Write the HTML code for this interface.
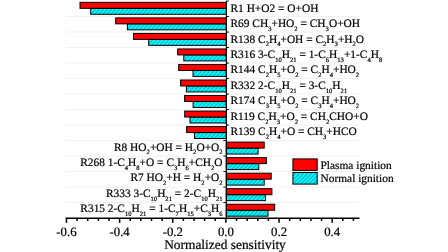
<!DOCTYPE html>
<html><head><meta charset="utf-8"><style>
html,body{margin:0;padding:0;background:#fff;}
body{width:448px;height:252px;overflow:hidden;}
svg{display:block;filter:none;font-family:"Liberation Serif","Times New Roman",serif;}
text{text-rendering:geometricPrecision;fill:#000;stroke:#000;stroke-width:0.2px;}
</style></head><body>
<svg width="448" height="252" viewBox="0 0 448 252">
<defs><pattern id="hatch" patternUnits="userSpaceOnUse" width="2.83" height="2.83" patternTransform="rotate(45)">
<rect width="2.83" height="2.83" fill="#00ffff"/><line x1="0" y1="0" x2="0" y2="2.83" stroke="#1b4f7a" stroke-width="1.0"/></pattern></defs>
<line x1="66.48" x2="358.75" y1="16.55" y2="16.55" stroke="#e2e2e2" stroke-width="1.0" stroke-dasharray="1 1"/>
<line x1="66.48" x2="358.75" y1="32.05" y2="32.05" stroke="#e2e2e2" stroke-width="1.0" stroke-dasharray="1 1"/>
<line x1="66.48" x2="358.75" y1="47.55" y2="47.55" stroke="#e2e2e2" stroke-width="1.0" stroke-dasharray="1 1"/>
<line x1="66.48" x2="358.75" y1="63.05" y2="63.05" stroke="#e2e2e2" stroke-width="1.0" stroke-dasharray="1 1"/>
<line x1="66.48" x2="358.75" y1="78.55" y2="78.55" stroke="#e2e2e2" stroke-width="1.0" stroke-dasharray="1 1"/>
<line x1="66.48" x2="358.75" y1="94.05" y2="94.05" stroke="#e2e2e2" stroke-width="1.0" stroke-dasharray="1 1"/>
<line x1="66.48" x2="358.75" y1="109.55" y2="109.55" stroke="#e2e2e2" stroke-width="1.0" stroke-dasharray="1 1"/>
<line x1="66.48" x2="358.75" y1="125.05" y2="125.05" stroke="#e2e2e2" stroke-width="1.0" stroke-dasharray="1 1"/>
<line x1="66.48" x2="358.75" y1="140.55" y2="140.55" stroke="#e2e2e2" stroke-width="1.0" stroke-dasharray="1 1"/>
<line x1="66.48" x2="358.75" y1="156.05" y2="156.05" stroke="#e2e2e2" stroke-width="1.0" stroke-dasharray="1 1"/>
<line x1="66.48" x2="358.75" y1="171.55" y2="171.55" stroke="#e2e2e2" stroke-width="1.0" stroke-dasharray="1 1"/>
<line x1="66.48" x2="358.75" y1="187.05" y2="187.05" stroke="#e2e2e2" stroke-width="1.0" stroke-dasharray="1 1"/>
<line x1="66.48" x2="358.75" y1="202.55" y2="202.55" stroke="#e2e2e2" stroke-width="1.0" stroke-dasharray="1 1"/>
<rect x="90.70" y="8.32" width="135.50" height="5.97" fill="url(#hatch)" stroke="#000" stroke-width="1.0"/>
<rect x="80.00" y="2.35" width="146.20" height="5.97" fill="#ff0000" stroke="#000" stroke-width="1.0"/>
<rect x="127.40" y="23.85" width="98.80" height="5.97" fill="url(#hatch)" stroke="#000" stroke-width="1.0"/>
<rect x="115.70" y="17.88" width="110.50" height="5.97" fill="#ff0000" stroke="#000" stroke-width="1.0"/>
<rect x="148.70" y="39.38" width="77.50" height="5.97" fill="url(#hatch)" stroke="#000" stroke-width="1.0"/>
<rect x="133.50" y="33.41" width="92.70" height="5.97" fill="#ff0000" stroke="#000" stroke-width="1.0"/>
<rect x="183.80" y="54.91" width="42.40" height="5.97" fill="url(#hatch)" stroke="#000" stroke-width="1.0"/>
<rect x="177.70" y="48.94" width="48.50" height="5.97" fill="#ff0000" stroke="#000" stroke-width="1.0"/>
<rect x="193.00" y="70.44" width="33.20" height="5.97" fill="url(#hatch)" stroke="#000" stroke-width="1.0"/>
<rect x="178.70" y="64.47" width="47.50" height="5.97" fill="#ff0000" stroke="#000" stroke-width="1.0"/>
<rect x="186.40" y="85.97" width="39.80" height="5.97" fill="url(#hatch)" stroke="#000" stroke-width="1.0"/>
<rect x="180.60" y="80.00" width="45.60" height="5.97" fill="#ff0000" stroke="#000" stroke-width="1.0"/>
<rect x="193.10" y="101.50" width="33.10" height="5.97" fill="url(#hatch)" stroke="#000" stroke-width="1.0"/>
<rect x="184.60" y="95.53" width="41.60" height="5.97" fill="#ff0000" stroke="#000" stroke-width="1.0"/>
<rect x="190.00" y="117.03" width="36.20" height="5.97" fill="url(#hatch)" stroke="#000" stroke-width="1.0"/>
<rect x="184.70" y="111.06" width="41.50" height="5.97" fill="#ff0000" stroke="#000" stroke-width="1.0"/>
<rect x="194.50" y="132.56" width="31.70" height="5.97" fill="url(#hatch)" stroke="#000" stroke-width="1.0"/>
<rect x="186.60" y="126.59" width="39.60" height="5.97" fill="#ff0000" stroke="#000" stroke-width="1.0"/>
<rect x="226.20" y="148.09" width="31.90" height="5.97" fill="url(#hatch)" stroke="#000" stroke-width="1.0"/>
<rect x="226.20" y="142.12" width="38.00" height="5.97" fill="#ff0000" stroke="#000" stroke-width="1.0"/>
<rect x="226.20" y="163.62" width="32.60" height="5.97" fill="url(#hatch)" stroke="#000" stroke-width="1.0"/>
<rect x="226.20" y="157.65" width="40.20" height="5.97" fill="#ff0000" stroke="#000" stroke-width="1.0"/>
<rect x="226.20" y="179.15" width="38.00" height="5.97" fill="url(#hatch)" stroke="#000" stroke-width="1.0"/>
<rect x="226.20" y="173.18" width="45.00" height="5.97" fill="#ff0000" stroke="#000" stroke-width="1.0"/>
<rect x="226.20" y="194.68" width="39.30" height="5.97" fill="url(#hatch)" stroke="#000" stroke-width="1.0"/>
<rect x="226.20" y="188.71" width="45.70" height="5.97" fill="#ff0000" stroke="#000" stroke-width="1.0"/>
<rect x="226.20" y="210.21" width="41.80" height="5.97" fill="url(#hatch)" stroke="#000" stroke-width="1.0"/>
<rect x="226.20" y="204.24" width="48.50" height="5.97" fill="#ff0000" stroke="#000" stroke-width="1.0"/>
<line x1="226.40" x2="226.40" y1="1.05" y2="218.30" stroke="#000" stroke-width="1.1"/>
<line x1="226.40" x2="228.90" y1="1.05" y2="1.05" stroke="#000" stroke-width="1"/>
<line x1="226.40" x2="228.90" y1="16.55" y2="16.55" stroke="#000" stroke-width="1"/>
<line x1="226.40" x2="228.90" y1="32.05" y2="32.05" stroke="#000" stroke-width="1"/>
<line x1="226.40" x2="228.90" y1="47.55" y2="47.55" stroke="#000" stroke-width="1"/>
<line x1="226.40" x2="228.90" y1="63.05" y2="63.05" stroke="#000" stroke-width="1"/>
<line x1="226.40" x2="228.90" y1="78.55" y2="78.55" stroke="#000" stroke-width="1"/>
<line x1="226.40" x2="228.90" y1="94.05" y2="94.05" stroke="#000" stroke-width="1"/>
<line x1="226.40" x2="228.90" y1="109.55" y2="109.55" stroke="#000" stroke-width="1"/>
<line x1="226.40" x2="228.90" y1="125.05" y2="125.05" stroke="#000" stroke-width="1"/>
<line x1="223.40" x2="226.40" y1="140.55" y2="140.55" stroke="#000" stroke-width="1"/>
<line x1="223.40" x2="226.40" y1="156.05" y2="156.05" stroke="#000" stroke-width="1"/>
<line x1="223.40" x2="226.40" y1="171.55" y2="171.55" stroke="#000" stroke-width="1"/>
<line x1="223.40" x2="226.40" y1="187.05" y2="187.05" stroke="#000" stroke-width="1"/>
<line x1="223.40" x2="226.40" y1="202.55" y2="202.55" stroke="#000" stroke-width="1"/>
<line x1="65.68" x2="359.55" y1="218.30" y2="218.30" stroke="#000" stroke-width="1.6"/>
<line x1="66.48" x2="66.48" y1="218.30" y2="222.80" stroke="#000" stroke-width="1.5"/>
<line x1="77.11" x2="77.11" y1="218.30" y2="220.90" stroke="#000" stroke-width="1.5"/>
<line x1="87.74" x2="87.74" y1="218.30" y2="220.90" stroke="#000" stroke-width="1.5"/>
<line x1="98.36" x2="98.36" y1="218.30" y2="220.90" stroke="#000" stroke-width="1.5"/>
<line x1="108.99" x2="108.99" y1="218.30" y2="220.90" stroke="#000" stroke-width="1.5"/>
<line x1="119.62" x2="119.62" y1="218.30" y2="222.80" stroke="#000" stroke-width="1.5"/>
<line x1="130.25" x2="130.25" y1="218.30" y2="220.90" stroke="#000" stroke-width="1.5"/>
<line x1="140.88" x2="140.88" y1="218.30" y2="220.90" stroke="#000" stroke-width="1.5"/>
<line x1="151.50" x2="151.50" y1="218.30" y2="220.90" stroke="#000" stroke-width="1.5"/>
<line x1="162.13" x2="162.13" y1="218.30" y2="220.90" stroke="#000" stroke-width="1.5"/>
<line x1="172.76" x2="172.76" y1="218.30" y2="222.80" stroke="#000" stroke-width="1.5"/>
<line x1="183.39" x2="183.39" y1="218.30" y2="220.90" stroke="#000" stroke-width="1.5"/>
<line x1="194.02" x2="194.02" y1="218.30" y2="220.90" stroke="#000" stroke-width="1.5"/>
<line x1="204.64" x2="204.64" y1="218.30" y2="220.90" stroke="#000" stroke-width="1.5"/>
<line x1="215.27" x2="215.27" y1="218.30" y2="220.90" stroke="#000" stroke-width="1.5"/>
<line x1="225.90" x2="225.90" y1="218.30" y2="222.80" stroke="#000" stroke-width="1.5"/>
<line x1="236.53" x2="236.53" y1="218.30" y2="220.90" stroke="#000" stroke-width="1.5"/>
<line x1="247.16" x2="247.16" y1="218.30" y2="220.90" stroke="#000" stroke-width="1.5"/>
<line x1="257.78" x2="257.78" y1="218.30" y2="220.90" stroke="#000" stroke-width="1.5"/>
<line x1="268.41" x2="268.41" y1="218.30" y2="220.90" stroke="#000" stroke-width="1.5"/>
<line x1="279.04" x2="279.04" y1="218.30" y2="222.80" stroke="#000" stroke-width="1.5"/>
<line x1="289.67" x2="289.67" y1="218.30" y2="220.90" stroke="#000" stroke-width="1.5"/>
<line x1="300.30" x2="300.30" y1="218.30" y2="220.90" stroke="#000" stroke-width="1.5"/>
<line x1="310.92" x2="310.92" y1="218.30" y2="220.90" stroke="#000" stroke-width="1.5"/>
<line x1="321.55" x2="321.55" y1="218.30" y2="220.90" stroke="#000" stroke-width="1.5"/>
<line x1="332.18" x2="332.18" y1="218.30" y2="222.80" stroke="#000" stroke-width="1.5"/>
<line x1="342.81" x2="342.81" y1="218.30" y2="220.90" stroke="#000" stroke-width="1.5"/>
<line x1="353.44" x2="353.44" y1="218.30" y2="220.90" stroke="#000" stroke-width="1.5"/>
<text x="66.48" y="235.80" text-anchor="middle" font-size="12.8">-0.6</text>
<text x="119.62" y="235.80" text-anchor="middle" font-size="12.8">-0.4</text>
<text x="172.76" y="235.80" text-anchor="middle" font-size="12.8">-0.2</text>
<text x="225.90" y="235.80" text-anchor="middle" font-size="12.8">0.0</text>
<text x="279.04" y="235.80" text-anchor="middle" font-size="12.8">0.2</text>
<text x="332.18" y="235.80" text-anchor="middle" font-size="12.8">0.4</text>
<text x="225.00" y="248.70" text-anchor="middle" font-size="13.4">Normalized sensitivity</text>
<text x="230.50" y="11.70" font-size="11.4">R1 H+O2 = O+OH</text>
<text x="230.50" y="27.13" font-size="11.4">R69 CH<tspan font-size="6.6" dy="3.8">3</tspan><tspan dy="-3.8">+HO</tspan><tspan font-size="6.6" dy="3.8">2</tspan><tspan dy="-3.8"> = CH</tspan><tspan font-size="6.6" dy="3.8">3</tspan><tspan dy="-3.8">O+OH</tspan></text>
<text x="230.50" y="42.56" font-size="11.4">R138 C<tspan font-size="6.6" dy="3.8">2</tspan><tspan dy="-3.8">H</tspan><tspan font-size="6.6" dy="3.8">4</tspan><tspan dy="-3.8">+OH = C</tspan><tspan font-size="6.6" dy="3.8">2</tspan><tspan dy="-3.8">H</tspan><tspan font-size="6.6" dy="3.8">3</tspan><tspan dy="-3.8">+H</tspan><tspan font-size="6.6" dy="3.8">2</tspan><tspan dy="-3.8">O</tspan></text>
<text x="230.50" y="57.99" font-size="11.4">R316 3-C<tspan font-size="6.6" dy="3.8">10</tspan><tspan dy="-3.8">H</tspan><tspan font-size="6.6" dy="3.8">21</tspan><tspan dy="-3.8"> = 1-C</tspan><tspan font-size="6.6" dy="3.8">6</tspan><tspan dy="-3.8">H</tspan><tspan font-size="6.6" dy="3.8">13</tspan><tspan dy="-3.8">+1-C</tspan><tspan font-size="6.6" dy="3.8">4</tspan><tspan dy="-3.8">H</tspan><tspan font-size="6.6" dy="3.8">8</tspan></text>
<text x="230.50" y="73.42" font-size="11.4">R144 C<tspan font-size="6.6" dy="3.8">2</tspan><tspan dy="-3.8">H</tspan><tspan font-size="6.6" dy="3.8">5</tspan><tspan dy="-3.8">+O</tspan><tspan font-size="6.6" dy="3.8">2</tspan><tspan dy="-3.8"> = C</tspan><tspan font-size="6.6" dy="3.8">2</tspan><tspan dy="-3.8">H</tspan><tspan font-size="6.6" dy="3.8">4</tspan><tspan dy="-3.8">+HO</tspan><tspan font-size="6.6" dy="3.8">2</tspan></text>
<text x="230.50" y="88.85" font-size="11.4">R332 2-C<tspan font-size="6.6" dy="3.8">10</tspan><tspan dy="-3.8">H</tspan><tspan font-size="6.6" dy="3.8">21</tspan><tspan dy="-3.8"> = 3-C</tspan><tspan font-size="6.6" dy="3.8">10</tspan><tspan dy="-3.8">H</tspan><tspan font-size="6.6" dy="3.8">21</tspan></text>
<text x="230.50" y="104.28" font-size="11.4">R174 C<tspan font-size="6.6" dy="3.8">3</tspan><tspan dy="-3.8">H</tspan><tspan font-size="6.6" dy="3.8">5</tspan><tspan dy="-3.8">+O</tspan><tspan font-size="6.6" dy="3.8">2</tspan><tspan dy="-3.8"> = C</tspan><tspan font-size="6.6" dy="3.8">3</tspan><tspan dy="-3.8">H</tspan><tspan font-size="6.6" dy="3.8">4</tspan><tspan dy="-3.8">+HO</tspan><tspan font-size="6.6" dy="3.8">2</tspan></text>
<text x="230.50" y="119.71" font-size="11.4">R119 C<tspan font-size="6.6" dy="3.8">2</tspan><tspan dy="-3.8">H</tspan><tspan font-size="6.6" dy="3.8">3</tspan><tspan dy="-3.8">+O</tspan><tspan font-size="6.6" dy="3.8">2</tspan><tspan dy="-3.8"> = CH</tspan><tspan font-size="6.6" dy="3.8">2</tspan><tspan dy="-3.8">CHO+O</tspan></text>
<text x="230.50" y="135.14" font-size="11.4">R139 C<tspan font-size="6.6" dy="3.8">2</tspan><tspan dy="-3.8">H</tspan><tspan font-size="6.6" dy="3.8">4</tspan><tspan dy="-3.8">+O = CH</tspan><tspan font-size="6.6" dy="3.8">3</tspan><tspan dy="-3.8">+HCO</tspan></text>
<text x="222.60" y="150.57" text-anchor="end" font-size="11.4">R8 HO<tspan font-size="6.6" dy="3.8">2</tspan><tspan dy="-3.8">+OH = H</tspan><tspan font-size="6.6" dy="3.8">2</tspan><tspan dy="-3.8">O+O</tspan><tspan font-size="6.6" dy="3.8">2</tspan></text>
<text x="222.60" y="166.00" text-anchor="end" font-size="11.4">R268 1-C<tspan font-size="6.6" dy="3.8">4</tspan><tspan dy="-3.8">H</tspan><tspan font-size="6.6" dy="3.8">8</tspan><tspan dy="-3.8">+O = C</tspan><tspan font-size="6.6" dy="3.8">3</tspan><tspan dy="-3.8">H</tspan><tspan font-size="6.6" dy="3.8">6</tspan><tspan dy="-3.8">+CH</tspan><tspan font-size="6.6" dy="3.8">2</tspan><tspan dy="-3.8">O</tspan></text>
<text x="222.60" y="181.43" text-anchor="end" font-size="11.4">R7 HO<tspan font-size="6.6" dy="3.8">2</tspan><tspan dy="-3.8">+H = H</tspan><tspan font-size="6.6" dy="3.8">2</tspan><tspan dy="-3.8">+O</tspan><tspan font-size="6.6" dy="3.8">2</tspan></text>
<text x="222.60" y="196.86" text-anchor="end" font-size="11.4">R333 3-C<tspan font-size="6.6" dy="3.8">10</tspan><tspan dy="-3.8">H</tspan><tspan font-size="6.6" dy="3.8">21</tspan><tspan dy="-3.8"> = 2-C</tspan><tspan font-size="6.6" dy="3.8">10</tspan><tspan dy="-3.8">H</tspan><tspan font-size="6.6" dy="3.8">21</tspan></text>
<text x="222.60" y="212.29" text-anchor="end" font-size="11.4">R315 2-C<tspan font-size="6.6" dy="3.8">10</tspan><tspan dy="-3.8">H</tspan><tspan font-size="6.6" dy="3.8">21</tspan><tspan dy="-3.8"> = 1-C</tspan><tspan font-size="6.6" dy="3.8">7</tspan><tspan dy="-3.8">H</tspan><tspan font-size="6.6" dy="3.8">15</tspan><tspan dy="-3.8">+C</tspan><tspan font-size="6.6" dy="3.8">3</tspan><tspan dy="-3.8">H</tspan><tspan font-size="6.6" dy="3.8">6</tspan></text>
<rect x="292.9" y="158.9" width="24.30" height="11.50" fill="#ff0000" stroke="#000" stroke-width="1"/>
<rect x="292.9" y="172.5" width="24.30" height="11.60" fill="url(#hatch)" stroke="#000" stroke-width="1"/>
<text x="320.50" y="168.60" font-size="11.4">Plasma ignition</text>
<text x="320.50" y="182.00" font-size="11.4">Normal ignition</text>
</svg>
</body></html>
